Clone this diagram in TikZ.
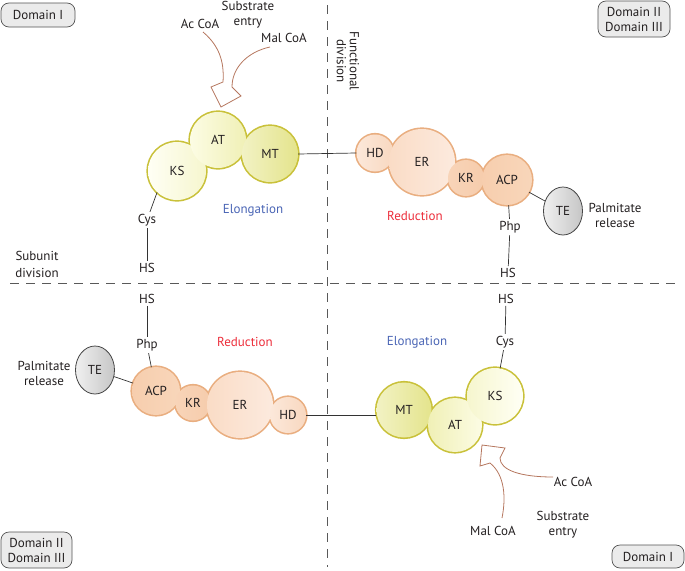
\documentclass[tikz,border=0pt]{standalone}
\usepackage{fontspec}
\setmainfont{PT Sans}
\usetikzlibrary{shapes.geometric}
\definecolor{yelS}{HTML}{C9C13A}
\definecolor{peaS}{HTML}{E9AE80}
\definecolor{subC}{HTML}{B5765E}
\definecolor{eloC}{HTML}{4A65B5}
\definecolor{redC}{HTML}{EC2D3A}
\definecolor{txtC}{HTML}{231F20}
\begin{document}
\begin{tikzpicture}[x=1pt,y=-1pt,
  every node/.style={font=\fontsize{13}{15}\selectfont, text=txtC},
  lbl/.style={inner sep=2pt, align=center},
  blob/.style={circle, inner sep=0pt},
  conn/.style={draw=black!80, line width=0.7pt},
  outY/.style={draw=yelS, line width=3.2pt},
  outP/.style={draw=peaS, line width=3.2pt},
  dom/.style={draw=gray!65!black, fill=gray!16, rounded corners=8pt, line width=0.7pt, inner sep=1pt, align=center},
  sub/.style={draw=subC, line width=0.8pt, line join=miter},
  divl/.style={draw=black!65, line width=1pt, dash pattern=on 9pt off 7pt},
  te/.style={ellipse, draw=gray!55!black, line width=0.8pt, left color=gray!12, right color=gray!45, minimum width=39pt, minimum height=48pt, inner sep=0pt}]
\useasboundingbox (0,0) rectangle (685,570);

% division lines
\coordinate (vt) at (327,5); \coordinate (vb) at (327,567);
\coordinate (hl) at (10,283); \coordinate (hr) at (676,283);
\draw[divl] (vt) -- (vb);
\draw[divl] (hl) -- (hr);
\node[lbl, rotate=-90, font=\fontsize{13}{13}\selectfont] (func) at (348,61) {Functional\\division};
\node[lbl, font=\fontsize{13}{17}\selectfont] (subdiv) at (37,264) {Subunit\\division};

% domain boxes
\node[dom, minimum width=74pt, minimum height=24pt] (d1a) at (38,15) {Domain I};
\node[dom, minimum width=72pt, minimum height=36pt] (d23a) at (634,19) {Domain II\\Domain III};
\node[dom, minimum width=71pt, minimum height=36pt] (d23b) at (36.5,550) {Domain II\\Domain III};
\node[dom, minimum width=72pt, minimum height=23pt] (d1b) at (648,556.5) {Domain I};

% ---------- top-left elongation ----------
\draw[outY] (177,171) circle (29);
\draw[outY] (218,140) circle (28);
\draw[outY] (270,154) circle (28);
\node[blob, minimum size=58pt, left color=white!96!yellow, right color={rgb,255:red,246;green,246;blue,206}] (KS1) at (177,171) {KS};
\node[blob, minimum size=56pt, left color={rgb,255:red,252;green,252;blue,228}, right color={rgb,255:red,240;green,240;blue,182}] (AT1) at (218,140) {AT};
\node[blob, minimum size=56pt, left color={rgb,255:red,242;green,242;blue,196}, right color={rgb,255:red,228;green,228;blue,140}] (MT1) at (270,154) {MT};
\node[lbl] (Cys1) at (147,220) {Cys};
\node[lbl] (HS1) at (147,268) {HS};
\draw[conn] (KS1.227) -- (Cys1);
\draw[conn] (Cys1) -- (HS1);
\node[lbl, text=eloC] (elo1) at (253,210) {Elongation};

% substrate entry top
\node[lbl] (ac1) at (200,24) {Ac CoA};
\node[lbl] (se1) at (248,15) {Substrate\\entry};
\node[lbl] (mal1) at (284,38) {Mal CoA};
\coordinate (a1s) at (203,32);
\coordinate (a1e) at (270,47);
\draw[sub] (a1s) .. controls (222,48) and (224,66) .. (223,82) -- (211,87) -- (221,107) -- (241,96) -- (232,87) .. controls (232,68) and (247,52) .. (a1e);

% ---------- top-right reduction ----------
\draw[outP] (375,153) circle (18.5);
\draw[outP] (422,162) circle (33);
\draw[outP] (466,178) circle (18);
\draw[outP] (507,180) circle (25);
\node[blob, minimum size=37pt, left color={rgb,255:red,252;green,232;blue,218}, right color={rgb,255:red,248;green,216;blue,192}] (HD1) at (375,153) {HD};
\node[blob, minimum size=66pt, left color={rgb,255:red,250;green,220;blue,198}, right color={rgb,255:red,252;green,234;blue,222}] (ER1) at (422,162) {ER};
\node[blob, minimum size=36pt, left color={rgb,255:red,248;green,212;blue,184}, right color={rgb,255:red,246;green,204;blue,172}] (KR1) at (466,178) {KR};
\node[blob, minimum size=50pt, left color={rgb,255:red,247;green,206;blue,174}, right color={rgb,255:red,248;green,214;blue,186}] (ACP1) at (507,180) {ACP};
\draw[conn] (MT1.east) -- (HD1.west);
\node[te] (TE1) at (563,211) {TE};
\draw[conn] (ACP1) -- (TE1);
\node[lbl] (pal1) at (615,215) {Palmitate\\release};
\node[lbl] (Php1) at (510,227) {Php};
\node[lbl] (HS2) at (508,273) {HS};
\draw[conn] (ACP1) -- (Php1);
\draw[conn] (Php1) -- (HS2);
\node[lbl, text=redC] (red1) at (415,216) {Reduction};

% ---------- bottom-left reduction ----------
\draw[outP] (156,391) circle (24);
\draw[outP] (193,403) circle (17.5);
\draw[outP] (240,405) circle (33);
\draw[outP] (288,415) circle (18);
\node[blob, minimum size=48pt, left color={rgb,255:red,247;green,206;blue,174}, right color={rgb,255:red,248;green,214;blue,186}] (ACP2) at (156,391) {ACP};
\node[blob, minimum size=35pt, left color={rgb,255:red,248;green,212;blue,184}, right color={rgb,255:red,246;green,204;blue,172}] (KR2) at (193,403) {KR};
\node[blob, minimum size=66pt, left color={rgb,255:red,250;green,220;blue,198}, right color={rgb,255:red,252;green,234;blue,222}] (ER2) at (240,405) {ER};
\node[blob, minimum size=36pt, left color={rgb,255:red,252;green,232;blue,218}, right color={rgb,255:red,248;green,216;blue,192}] (HD2) at (288,415) {HD};
\node[te] (TE2) at (95,370) {TE};
\draw[conn] (TE2) -- (ACP2);
\node[lbl] (pal2) at (44,373) {Palmitate\\release};
\node[lbl] (HS3) at (147,299) {HS};
\node[lbl] (Php2) at (147,345) {Php};
\draw[conn] (HS3) -- (Php2);
\draw[conn] (Php2) -- (ACP2);
\node[lbl, text=redC] (red2) at (245,342) {Reduction};

% ---------- bottom-right elongation ----------
\draw[outY] (404,410) circle (27.5);
\draw[outY] (455,425) circle (27);
\draw[outY] (495,396) circle (28);
\node[blob, minimum size=55pt, left color={rgb,255:red,242;green,242;blue,196}, right color={rgb,255:red,228;green,228;blue,140}] (MT2) at (404,410) {MT};
\node[blob, minimum size=54pt, left color={rgb,255:red,240;green,240;blue,182}, right color={rgb,255:red,252;green,252;blue,228}] (AT2) at (455,425) {AT};
\node[blob, minimum size=56pt, left color={rgb,255:red,246;green,246;blue,206}, right color=white!96!yellow] (KS2) at (495,396) {KS};
\draw[conn] (HD2.east) -- (HD2.east -| MT2.west);
\node[lbl] (HS4) at (506,299) {HS};
\node[lbl] (Cys2) at (505,342) {Cys};
\draw[conn] (HS4) -- (Cys2);
\draw[conn] (Cys2) -- (KS2);
\node[lbl, text=eloC] (elo2) at (417,342) {Elongation};

% substrate entry bottom
\node[lbl] (ac2) at (573,482) {Ac CoA};
\node[lbl] (se2) at (563,525) {Substrate\\entry};
\node[lbl] (mal2) at (493,531) {Mal CoA};
\coordinate (a2s) at (553,477);
\coordinate (a2e) at (502,518);
\draw[sub] (a2s) .. controls (520,477) and (500,470) .. (500,458) -- (505,448) -- (482,445) -- (480,466) -- (490,463) .. controls (505,475) and (506,498) .. (a2e);
\end{tikzpicture}
\end{document}
